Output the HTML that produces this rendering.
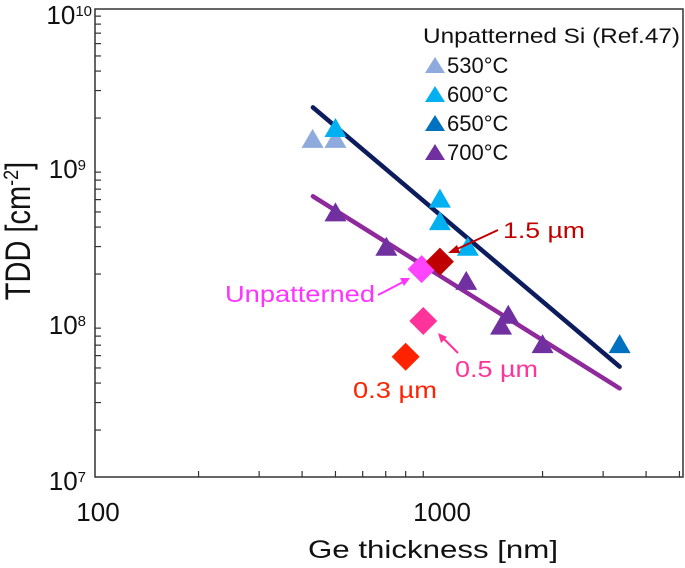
<!DOCTYPE html>
<html><head><meta charset="utf-8"><style>
html,body{margin:0;padding:0;background:#fff;}
svg{display:block;font-family:"Liberation Sans",sans-serif;}
</style></head><body>
<svg id="chart" width="685" height="568" viewBox="0 0 685 568">
<g id="ticks"></g>
<rect x="95" y="9" width="588" height="468" fill="none" stroke="#333" stroke-width="1.5"/>
<g id="lines"></g>
<g id="marks"></g>
<g><text transform="translate(30,231) scale(1.2,1) rotate(-90)" text-anchor="middle" font-size="29" fill="#111">TDD [cm<tspan font-size="18" dy="-10">-2</tspan><tspan dy="10">]</tspan></text></g>
<text x="308" y="558" font-size="25" textLength="250" lengthAdjust="spacingAndGlyphs" fill="#111">Ge thickness [nm]</text>
<g>
<text x="423" y="43" font-size="21" fill="#111" textLength="257" lengthAdjust="spacingAndGlyphs">Unpatterned Si (Ref.47)</text>
<g id="legend-entries"></g>
</g>
<g>
<text x="503" y="238" font-size="22" fill="#c00000" textLength="82" lengthAdjust="spacingAndGlyphs">1.5 µm</text>
<line x1="498" y1="230" x2="455" y2="250" stroke="#c00000" stroke-width="2"/>
<polygon points="448,253 457,245 460,253" fill="#c00000"/>
<text x="225" y="302" font-size="23" fill="#ff33ff" textLength="150" lengthAdjust="spacingAndGlyphs">Unpatterned</text>
<line x1="378" y1="295" x2="403" y2="282" stroke="#ff33ff" stroke-width="2"/>
<polygon points="410,278 400,278 404,286" fill="#ff33ff"/>
<text x="455" y="377" font-size="23" fill="#ff3399" textLength="83" lengthAdjust="spacingAndGlyphs">0.5 µm</text>
<line x1="458" y1="353" x2="443" y2="338" stroke="#ff3399" stroke-width="2"/>
<polygon points="438,333 447,337 441,343" fill="#ff3399"/>
<text x="353" y="398" font-size="23" fill="#ff2200" textLength="84" lengthAdjust="spacingAndGlyphs">0.3 µm</text>
</g>
</svg>
<script>
const seriesNames = ["530°C","600°C","650°C","700°C"];
const seriesColors = ["#8faadc","#00b0f0","#0070c0","#7030a0"];
const x530 = [429, 500];
const y530 = [1.45e9, 1.45e9];
const x600 = [500, 1006, 1006, 1213];
const y600 = [1.7e9, 6.0e8, 4.3e8, 2.95e8];
const x650 = [3350];
const y650 = [7.0e7];
const x700 = [500, 703, 1200, 1515, 1590, 2000];
const y700 = [4.9e8, 2.95e8, 1.78e8, 9.2e7, 1.08e8, 7.0e7];
const diamondNames = ["unpatterned","1-5um","0-5um","0-3um"];
const diamondX = [890, 1006, 900, 800];
const diamondY = [2.15e8, 2.4e8, 1.0e8, 5.9e7];
const diamondColors = ["#ff44ff","#c00000","#ff3399","#ff2200"];
const fitNavyX = [430, 3350];
const fitNavyY = [2.34e9, 5.1e7];
const fitPurpleX = [430, 3350];
const fitPurpleY = [6.3e8, 3.7e7];
const yTickExps = [7, 8, 9, 10];
const xTickLabels = ["100", "1000"];
const xTickValues = [100, 1000];

const NS = "http://www.w3.org/2000/svg";
function X(v){ return 95 + (Math.log10(v) - 2) * 344; }
function Y(v){ return 9 + (10 - Math.log10(v)) * 156; }
function el(tag, attrs, parent){ const e=document.createElementNS(NS,tag); for(const k in attrs) e.setAttribute(k,attrs[k]); parent.appendChild(e); return e; }

const ticks = document.getElementById("ticks");
for (let d = 7; d < 10; d++) {
  for (let m = 2; m <= 9; m++) {
    const y = Y(m * Math.pow(10, d));
    const t = el("line", {x1:95, x2:101, y1:y, y2:y, stroke:"#333", "stroke-width":1.2}, ticks);
    
    
  }
}
for (let d = 2; d < 4; d++) {
  for (let m = 2; m <= 9; m++) {
    const v = m * Math.pow(10, d);
    if (X(v) > 683) continue;
    const x = X(v);
    const t = el("line", {x1:x, x2:x, y1:477, y2:471, stroke:"#333", "stroke-width":1.2}, ticks);
    
    
  }
}
yTickExps.forEach(e => {
  const y = Y(Math.pow(10, e));
  const t = el("text", {x:e === 10 ? 92 : 86, y:Math.max(y + 13, 24), "text-anchor":"end", "font-size":26, fill:"#111"}, ticks);
  
  
  t.textContent = "10";
  const s = el("tspan", {dy:-8, "font-size":15}, t);
  s.textContent = String(e);
});
xTickValues.forEach((v, i) => {
  const t = el("text", {x:X(v) + 3, y:521, "text-anchor":"middle", "font-size":26, fill:"#111"}, ticks);
  
  
  t.textContent = xTickLabels[i];
});

const lines = document.getElementById("lines");
const l1 = el("line", {x1:X(fitNavyX[0]), y1:Y(fitNavyY[0]), x2:X(fitNavyX[1]), y2:Y(fitNavyY[1]), stroke:"#0c1c5c", "stroke-width":4.5, "stroke-linecap":"round"}, lines);


const l2 = el("line", {x1:X(fitPurpleX[0]), y1:Y(fitPurpleY[0]), x2:X(fitPurpleX[1]), y2:Y(fitPurpleY[1]), stroke:"#8e2a9c", "stroke-width":4.5, "stroke-linecap":"round"}, lines);



const marks = document.getElementById("marks");
function tri(cx, cy, color, parent){
  return el("polygon", {points:`${cx},${cy-11} ${cx-11},${cy+8} ${cx+11},${cy+8}`, fill:color}, parent);
}
const allX = [x530, x600, x650, x700];
const allY = [y530, y600, y650, y700];
allX.forEach((xs, s) => {
  xs.forEach((v, i) => {
    const p = tri(X(v), Y(allY[s][i]), seriesColors[s], marks);
    
    
  });
});
diamondX.forEach((v, i) => {
  const cx = X(v), cy = Y(diamondY[i]);
  const p = el("polygon", {points:`${cx},${cy-14} ${cx+14},${cy} ${cx},${cy+14} ${cx-14},${cy}`, fill:diamondColors[i]}, marks);
  
  
});

const leg = document.getElementById("legend-entries");
seriesNames.forEach((n, i) => {
  const base = 73 + i * 29;
  const p = el("polygon", {points:`435,${base-16} 425,${base} 445,${base}`, fill:seriesColors[i]}, leg);
  
  
  const t = el("text", {x:447, y:base, "font-size":22, fill:"#111"}, leg);
  
  
  t.textContent = n;
});
</script>
</body></html>
